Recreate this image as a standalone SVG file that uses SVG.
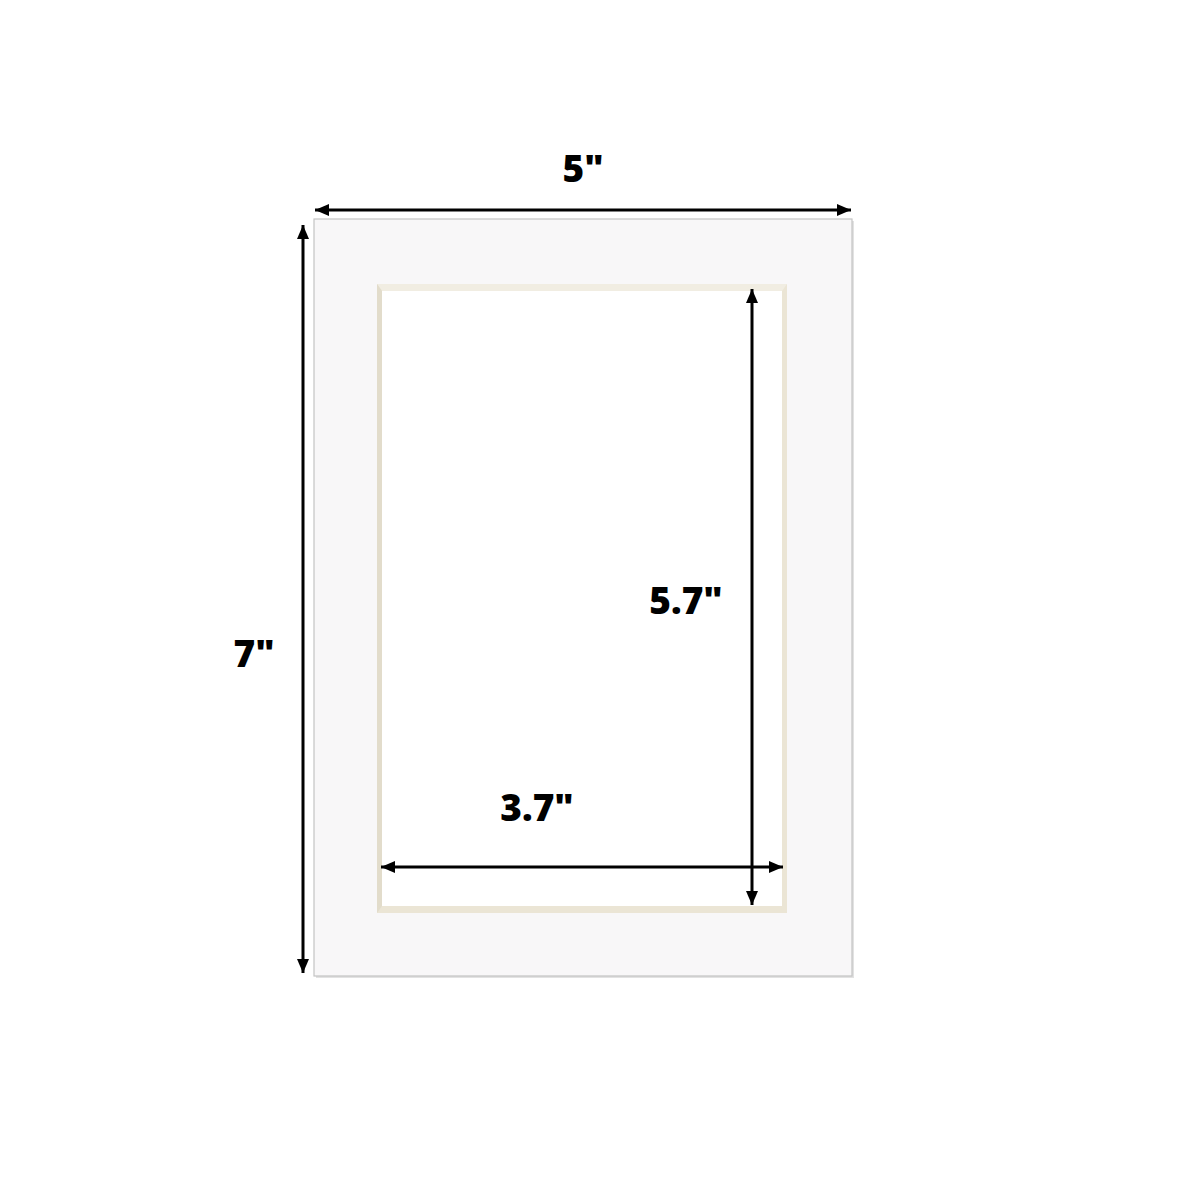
<svg xmlns="http://www.w3.org/2000/svg" width="1200" height="1200" viewBox="0 0 1200 1200">
<defs>
<marker id="ah" viewBox="0 0 14 12" refX="14" refY="6" markerWidth="14" markerHeight="12" markerUnits="userSpaceOnUse" orient="auto-start-reverse">
<path d="M0,0 L14,6 L0,12 z" fill="#000"/>
</marker>
<style>
.dim{stroke:#000;stroke-width:3;fill:none;marker-start:url(#ah);marker-end:url(#ah)}
.lbl{font-family:"Open Sans","Liberation Sans",sans-serif;font-weight:800;font-size:37px;fill:#000;text-anchor:middle}
</style>
</defs>
<rect width="1200" height="1200" fill="#fff"/>
<g id="mat">
<rect x="316" y="221" width="538" height="757" fill="#e2e2e2"/>
<rect x="314" y="219" width="538" height="757" fill="#f8f7f8" stroke="#c4c4c4" stroke-width="1.2"/>
<rect x="377" y="284" width="410" height="629" fill="#ebe5d5"/>
<path d="M377,284 L787,284 L782,291 L382,291 Z" fill="#f1ede2"/>
<path d="M377,284 L382,291 L382,906 L377,913 Z" fill="#e2dccb"/>
<rect x="382" y="291" width="400" height="615" fill="#fff"/>
</g>
<g id="connectors">
<line class="dim" x1="315" y1="210" x2="851" y2="210"/>
<line class="dim" x1="303" y1="225" x2="303" y2="973"/>
<line class="dim" x1="752" y1="289" x2="752" y2="905"/>
<line class="dim" x1="381" y1="867" x2="783" y2="867"/>
</g>
<g id="labels">
<text class="lbl" x="583" y="182">5"</text>
<text class="lbl" x="254" y="667">7"</text>
<text class="lbl" x="686" y="614">5.7"</text>
<text class="lbl" x="537" y="821">3.7"</text>
</g>
</svg>
